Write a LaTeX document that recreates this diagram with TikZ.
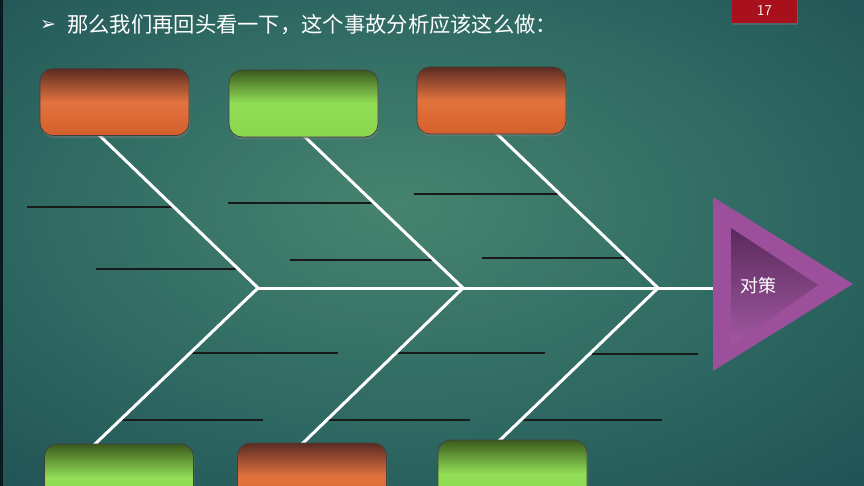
\documentclass[tikz,border=0pt]{standalone}
\usepackage{fontspec}
\newfontfamily\cjk{Noto Sans CJK SC}
\newfontfamily\sym{DejaVu Sans}
\usetikzlibrary{shadows}
\definecolor{bgin}{HTML}{46846F}
\definecolor{bgmid}{HTML}{2E6862}
\definecolor{bgout}{HTML}{17434B}
\definecolor{oTop}{HTML}{5A2C22}
\definecolor{oMid}{HTML}{E2733F}
\definecolor{oBot}{HTML}{D45F2C}
\definecolor{gTop}{HTML}{3A5A1C}
\definecolor{gMid}{HTML}{92DE57}
\definecolor{gBot}{HTML}{8AD64E}
\definecolor{triOut}{HTML}{9C509C}
\definecolor{triIn}{HTML}{5A2A5C}
\definecolor{pageRed}{HTML}{A8101C}
\pgfdeclareradialshading{bgshade}{\pgfpoint{-2bp}{4bp}}{color(0bp)=(bgin); color(22bp)=(bgmid); color(48bp)=(bgout); color(70bp)=(bgout)}
\tikzset{
  box/.style={rounded corners=13pt, minimum width=149pt, minimum height=67pt,
    draw=black!75, line width=0.7pt, inner sep=0pt,
    drop shadow={opacity=0.45, shadow xshift=1pt, shadow yshift=-2.5pt}},
  obox/.style={box, top color=oTop, bottom color=oBot, middle color=oMid},
  gbox/.style={box, top color=gTop, bottom color=gBot, middle color=gMid},
  bone/.style={draw=white, line width=3pt},
  sub/.style={draw=black!90, line width=1.8pt},
  label/.style={text=white, font=\cjk, inner sep=0pt}
}
\begin{document}
\begin{tikzpicture}[x=1pt,y=-1pt]
\useasboundingbox (0,0) rectangle (864,486);
\clip (0,0) rectangle (864,486);
\shade[shading=bgshade] (0,0) rectangle (864,486);
\fill[black!60!bgout] (0,0) rectangle (2.5,486);

% page number box
\node[fill=pageRed, minimum width=65pt, minimum height=30pt, inner sep=0pt,
  drop shadow={opacity=0.4, shadow xshift=1pt, shadow yshift=-2pt}] (pg) at (764.5,8) {};
\node[label, font=\sffamily\fontsize{15}{15}\selectfont] (pgnum) at (764.5,11) {17};

% header
\node[text=white, inner sep=0pt, anchor=west, font=\sym\fontsize{19}{19}\selectfont] (bullet) at (40,25) {➢};
\node[label, anchor=west, font=\cjk\fontsize{21.3}{22}\selectfont] (title) at (67,25) {那么我们再回头看一下，这个事故分析应该这么做：};

% coordinates
\coordinate (j1) at (258,288);
\coordinate (j2) at (463,288);
\coordinate (j3) at (658,288);
\coordinate (head) at (713,288);
\coordinate (u1) at (98,134);
\coordinate (u2) at (303,135);
\coordinate (u3) at (495,132);
\coordinate (d1) at (93,446);
\coordinate (d2) at (301,445);
\coordinate (d3) at (498,442);

% sub bones
\draw[sub] (27,207) -- (172,207);
\draw[sub] (96,269) -- (237,269);
\draw[sub] (228,203) -- (372,203);
\draw[sub] (290,260) -- (433,260);
\draw[sub] (414,194) -- (558,194);
\draw[sub] (482,258) -- (626,258);
\draw[sub] (190,353) -- (338,353);
\draw[sub] (121,420) -- (263,420);
\draw[sub] (394,353) -- (545,353);
\draw[sub] (328,420) -- (470,420);
\draw[sub] (592,354) -- (698,354);
\draw[sub] (520,420) -- (662,420);

% bones
\draw[bone] (j1) -- (u1);
\draw[bone] (j2) -- (u2);
\draw[bone] (j3) -- (u3);
\draw[bone] (j1) -- (d1);
\draw[bone] (j2) -- (d2);
\draw[bone] (j3) -- (d3);
\draw[bone] (j1) -- (head);

% boxes
\node[obox] (b1) at (114.5,102) {};
\node[gbox] (b2) at (303.5,103.5) {};
\node[obox] (b3) at (491.5,100.5) {};
\node[gbox] (b4) at (119,477.5) {};
\node[obox] (b5) at (312,476.5) {};
\node[gbox] (b6) at (512.5,473.5) {};

% head triangle
\fill[triOut] (713,197) -- (853,284) -- (713,371) -- cycle;
\shade[top color=triIn, bottom color=triOut!95!white] (731,228) -- (818,285) -- (731,346) -- cycle;
\node[label, font=\cjk\fontsize{18}{18}\selectfont] (cm) at (758,286) {对策};
\end{tikzpicture}
\end{document}
